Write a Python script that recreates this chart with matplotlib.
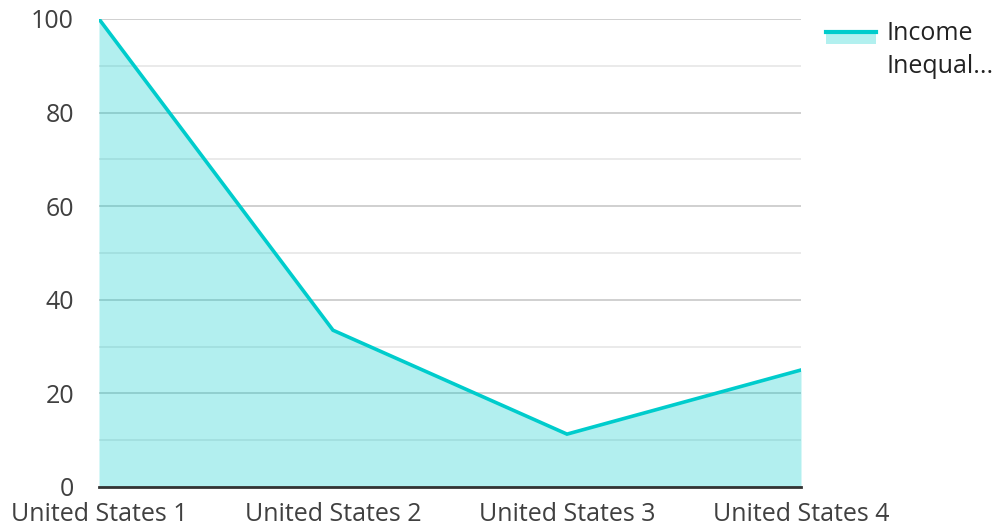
import matplotlib
matplotlib.use("Agg")
import matplotlib.pyplot as plt
from matplotlib.patches import Rectangle
from matplotlib.lines import Line2D

plt.rcParams['font.family'] = ['Open Sans', 'DejaVu Sans']

categories = ["United States 1", "United States 2", "United States 3", "United States 4"]
values = [100, 33.5, 11.3, 25.0]
series_name = "Income\nInequal..."

line_col = "#00cccc"
fill_col = "#b2f0ef"
text_col = "#404040"

W, H = 996, 528
fig = plt.figure(figsize=(W / 100, H / 100), dpi=100)
ax = fig.add_axes([99 / W, 41 / H, 702 / W, 468 / H])

x = list(range(len(categories)))
ax.fill_between(x, values, 0, color=line_col, alpha=0.3, lw=0, zorder=3)
ax.plot(x, values, color=line_col, lw=2.6, zorder=4, solid_joinstyle="miter")

ax.set_xlim(0, 3)
ax.set_ylim(0, 100)
ax.set_yticks(range(0, 101, 20))
ax.set_yticks(range(10, 100, 20), minor=True)
ax.grid(True, axis="y", which="major", color="#c8c8c8", lw=1.2, zorder=1)
ax.grid(True, axis="y", which="minor", color="#e6e6e6", lw=1.2, zorder=1)
ax.set_axisbelow(True)
ax.set_xticks(x)
ax.set_xticklabels(categories)

for s in ["top", "right", "left"]:
    ax.spines[s].set_visible(False)
ax.spines["bottom"].set_color("#333333")
ax.spines["bottom"].set_linewidth(2)
ax.spines["bottom"].set_zorder(5)

ax.tick_params(axis="both", which="both", length=0, labelsize=18, colors=text_col)
ax.tick_params(axis="y", pad=18)
ax.tick_params(axis="x", pad=10.5)

# legend drawn by hand (swatch = fill box with line on top, two-line label)
def px(xp, yp):
    return xp / W, 1 - yp / H

fig.add_artist(Rectangle(px(826, 44), 50 / W, 12 / H, transform=fig.transFigure,
                         fc=fill_col, ec="none"))
fig.add_artist(Line2D([826 / W, 876 / W], [1 - 31.5 / H] * 2, transform=fig.transFigure,
                      color=line_col, lw=3))
fig.text(*px(886, 21), series_name, ha="left", va="top", fontsize=18,
         color="#222222", linespacing=1.4)

fig.savefig("out.png", dpi=100)
